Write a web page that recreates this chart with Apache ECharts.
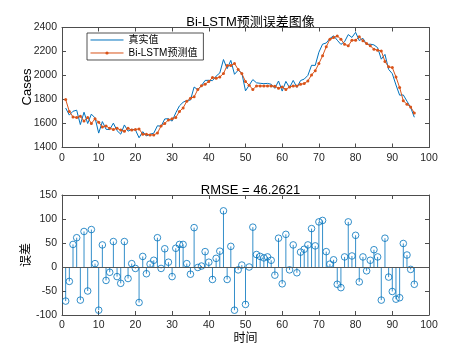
<!DOCTYPE html>
<html>
<head>
<meta charset="utf-8">
<script src="https://cdn.jsdelivr.net/npm/echarts@6/dist/echarts.min.js"></script>
<style>
html,body{margin:0;padding:0;background:#fff;}
#chart{width:474px;height:355px;}
</style>
</head>
<body>
<div id="chart"></div>
<script>
// time steps (x categories)
const timeSteps = [1,2,3,4,5,6,7,8,9,10,11,12,13,14,15,16,17,18,19,20,21,22,23,24,25,26,27,28,29,30,31,32,33,34,35,36,37,38,39,40,41,42,43,44,45,46,47,48,49,50,51,52,53,54,55,56,57,58,59,60,61,62,63,64,65,66,67,68,69,70,71,72,73,74,75,76,77,78,79,80,81,82,83,84,85,86,87,88,89,90,91,92,93,94,95,96];

// 真实值
const trueVals = [1729,1670,1702,1711,1591,1694,1600,1678,1647,1520,1616,1552,1549,1603,1540,1511,1588,1536,1552,1547,1481,1532,1496,1511,1519,1581,1577,1638,1640,1620,1689,1747,1777,
1792,1795,1904,1882,1916,1959,1960,1957,1995,2021,2133,2057,2126,2010,2044,2020,1872,1919,1966,1939,1935,1932,1934,1927,1893,1954,1870,1951,1899,1959,1901,1958,1970,2001,
2085,2084,2194,2261,2271,2308,2331,2294,2259,2282,2341,2317,2360,2291,2310,2258,2261,2255,2232,2136,2176,2051,2015,1921,1836,1838,1786,1733,1652];

// Bi-LSTM预测值
const predVals = [1800,1700,1655,1650,1660,1620,1650,1600,1640,1610,1570,1580,1560,1550,1560,1545,1535,1560,1545,1550,1555,1510,1510,1505,1505,1520,1580,1600,1630,1640,1650,1700,1730,
1785,1810,1822,1883,1914,1927,1950,1983,1977,1988,2016,2083,2083,2100,2050,2016,1950,1919,1883,1913,1913,1913,1913,1913,1910,1894,1905,1883,1905,1913,1913,1927,1933,1955,
2005,2040,2100,2164,2239,2302,2316,2330,2302,2261,2247,2294,2294,2322,2289,2266,2247,2219,2211,2205,2116,2072,2066,1988,1900,1789,1761,1738,1688];

// 误差
const errVals = [-71,-30,47,61,-69,74,-50,78,7,-90,46,-28,-11,53,-20,-34,53,-24,7,-3,-74,22,-14,6,14,61,-3,38,10,-20,39,47,47,7,-15,82,-1,2,32,10,-26,18,33,117,-26,43,-90,-6,4,-78,0,83,26,22,19,21,14,-17,60,-35,68,-6,46,-12,31,37,46,80,44,94,97,32,6,15,-36,-43,21,94,23,66,-31,21,-8,14,36,21,-69,60,-21,-51,-67,-64,49,25,-5,-36];

const xTicks = {min:0, max:100, interval:10};
const topYTicks = {min:1400, max:2400, interval:200};
const botYTicks = {min:-100, max:150, interval:50};
const rmseText = 'RMSE = 46.2621';

const FONT = '"Liberation Sans", Arial, "Noto Sans CJK SC", sans-serif';
const AX = '#4d4d4d';
const BLUE = '#0072BD';
const RED = '#D95319';

function pairs(vals){ return vals.map((v,i)=>[timeSteps[i], v]); }

function xAx(grid, pos, labels){
  return Object.assign({type:'value', gridIndex:grid, position:pos}, xTicks, {
    axisLine:{show:true, onZero:false, lineStyle:{color:AX, width:1}},
    axisTick:{show:true, inside:true, length:4, lineStyle:{color:AX}},
    axisLabel:{show:labels, color:'#262626', fontSize:10.5, fontFamily:FONT, margin:5},
    splitLine:{show:false}
  });
}
function yAx(grid, pos, labels, t){
  return Object.assign({type:'value', gridIndex:grid, position:pos}, t, {
    axisLine:{show:true, onZero:false, lineStyle:{color:AX, width:1}},
    axisTick:{show:true, inside:true, length:4, lineStyle:{color:AX}},
    axisLabel:{show:labels, color:'#262626', fontSize:10.5, fontFamily:FONT, margin:5,
      formatter:function(v){ return String(v); }},
    splitLine:{show:false}
  });
}

const chart = echarts.init(document.getElementById('chart'), null, {renderer:'canvas'});
const option = {
  backgroundColor:'#ffffff',
  animation:false,
  title:[
    {text:'Bi-LSTM预测误差图像', left:245.5, top:11, textAlign:'center',
     textStyle:{fontSize:13, fontWeight:'normal', color:'#000', fontFamily:FONT}},
    {text:rmseText, left:245.5, top:179, textAlign:'center',
     textStyle:{fontSize:13, fontWeight:'normal', color:'#000', fontFamily:FONT}}
  ],
  grid:[
    {left:62, right:45, top:27.5, height:120},
    {left:62, right:45, top:195, height:120}
  ],
  legend:{
    data:[{name:'真实值', itemStyle:{opacity:0}, lineStyle:{width:1}},
          {name:'Bi-LSTM预测值', lineStyle:{width:1}}],
    orient:'vertical', left:87, top:33,
    itemWidth:33, itemHeight:4, itemGap:3,
    padding:[2,6,2,3],
    borderColor:'#262626', borderWidth:0.8, backgroundColor:'#fff',
    textStyle:{fontSize:10, color:'#000', fontFamily:FONT}
  },
  xAxis:[ xAx(0,'bottom',true), xAx(0,'top',false), xAx(1,'bottom',true), xAx(1,'top',false) ],
  yAxis:[ yAx(0,'left',true,topYTicks), yAx(0,'right',false,topYTicks), yAx(1,'left',true,botYTicks), yAx(1,'right',false,botYTicks) ],
  series:[
    {name:'真实值', type:'line', xAxisIndex:0, yAxisIndex:0, data:pairs(trueVals),
     showSymbol:false, symbol:'none', lineStyle:{color:BLUE, width:1}, itemStyle:{color:BLUE}},
    {name:'Bi-LSTM预测值', type:'line', xAxisIndex:0, yAxisIndex:0, data:pairs(predVals),
     symbol:'circle', symbolSize:3, showSymbol:true,
     lineStyle:{color:RED, width:1}, itemStyle:{color:RED}},
    {name:'误差', type:'custom', xAxisIndex:2, yAxisIndex:2, data:pairs(errVals),
     encode:{x:0, y:1},
     renderItem:function(params, api){
       const x = api.value(0), y = api.value(1);
       const p0 = api.coord([x,0]);
       const p1 = api.coord([x,y]);
       return {type:'group', children:[
         {type:'line', shape:{x1:p0[0], y1:p0[1], x2:p1[0], y2:p1[1]}, style:{stroke:BLUE, lineWidth:0.8}},
         {type:'circle', shape:{cx:p1[0], cy:p1[1], r:3.3}, style:{fill:'none', stroke:BLUE, lineWidth:0.8}}
       ]};
     },
     markLine:{silent:true, symbol:'none', data:[{yAxis:0}], label:{show:false},
       lineStyle:{color:'#555', width:1, type:'solid'}, animation:false}
    }
  ],
  graphic:[
    {type:'text', x:27, y:87, rotation:Math.PI/2,
     style:{text:'Cases', fontSize:13, fill:'#000', fontFamily:FONT, align:'center', verticalAlign:'middle'}},
    {type:'text', x:27, y:255, rotation:Math.PI/2,
     style:{text:'误差', fontSize:12, fill:'#000', fontFamily:FONT, align:'center', verticalAlign:'middle'}},
    {type:'text', x:245.5, y:339, style:{text:'时间', fontSize:12, fill:'#000', fontFamily:FONT, align:'center', verticalAlign:'middle'}}
  ]
};
chart.setOption(option);
</script>
</body>
</html>
